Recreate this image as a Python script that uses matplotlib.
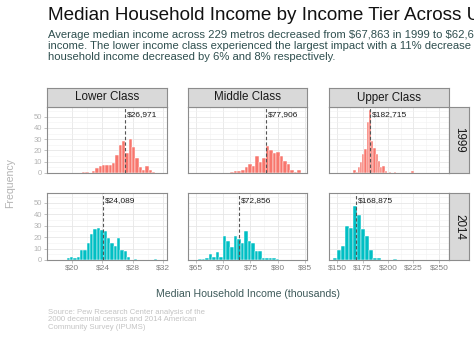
import matplotlib
matplotlib.use('Agg')
import matplotlib.pyplot as plt
import numpy as np
from matplotlib.ticker import FixedLocator, FuncFormatter

plt.rcParams['font.family'] = ['Liberation Sans', 'DejaVu Sans']

# data
tiers = ['Lower Class', 'Middle Class', 'Upper Class']
years = ['1999', '2014']

# histogram: left edge of first bin, bin width, counts (income in $ thousands)
lower_1999_start, lower_1999_width = 21.3, 0.44
lower_1999_counts = [1, 1, 0, 2, 4, 6, 7, 7, 7, 9, 16, 25, 28, 18, 30, 23, 13, 5, 3, 6, 3, 1]
lower_2014_start, lower_2014_width = 19.3, 0.44
lower_2014_counts = [2, 3, 2, 3, 9, 9, 15, 23, 27, 28, 26, 25, 19, 15, 12, 19, 9, 8, 3, 0,
                     1, 0, 0, 0, 0, 0, 1]

middle_1999_start, middle_1999_width = 71.3, 0.65
middle_1999_counts = [1, 2, 2, 3, 5, 8, 6, 15, 10, 13, 24, 20, 18, 19, 15, 11, 8, 3, 1, 3]
middle_2014_start, middle_2014_width = 65.375, 0.65
middle_2014_counts = [1, 1, 2, 5, 3, 7, 3, 21, 17, 11, 21, 18, 15, 25, 17, 15, 8, 8, 2, 2, 2, 2, 1]

upper_1999_start, upper_1999_width = 165.9, 2.2
upper_1999_counts = [3, 1, 5, 10, 17, 21, 45, 56, 28, 22, 17, 11, 5, 6, 2, 0, 1, 0, 1,
                     0, 0, 0, 0, 0, 0, 0, 2]
upper_2014_start, upper_2014_width = 146.05, 3.9
upper_2014_counts = [2, 9, 12, 30, 28, 47, 39, 27, 21, 9, 2, 2, 0, 0, 0, 1]

median_1999 = [26.971, 77.906, 182.715]
median_2014 = [24.089, 72.856, 168.875]

x_ticks = [[20, 24, 28, 32], [65, 70, 75, 80, 85], [150, 175, 200, 225, 250]]
y_ticks = [0, 10, 20, 30, 40, 50]

hists = {
    ('1999', 0): (lower_1999_start, lower_1999_width, lower_1999_counts),
    ('2014', 0): (lower_2014_start, lower_2014_width, lower_2014_counts),
    ('1999', 1): (middle_1999_start, middle_1999_width, middle_1999_counts),
    ('2014', 1): (middle_2014_start, middle_2014_width, middle_2014_counts),
    ('1999', 2): (upper_1999_start, upper_1999_width, upper_1999_counts),
    ('2014', 2): (upper_2014_start, upper_2014_width, upper_2014_counts),
}
medians = {'1999': median_1999, '2014': median_2014}
fills = {'1999': '#F8766D', '2014': '#00BFC4'}

W, H = 474, 338
fig = plt.figure(figsize=(W / 100, H / 100), dpi=100)
fig.patch.set_facecolor('white')


def rect(x0, y0, x1, y1):
    # pixel box (top-left origin) -> figure fraction
    return [x0 / W, 1 - y1 / H, (x1 - x0) / W, (y1 - y0) / H]


col_x = [(47, 167), (188, 307), (329, 449)]
row_y = [(107, 173), (193, 260)]
x_lims = [(16.7, 32.5), (63.5, 85.4), (142, 260)]
border = '#8C8C8C'
strip_fill = '#D9D9D9'

for r, year in enumerate(years):
    for c in range(3):
        ax = fig.add_axes(rect(col_x[c][0], row_y[r][0], col_x[c][1], row_y[r][1]))
        start, width, counts = hists[(year, c)]
        counts = np.array(counts)
        lefts = start + width * np.arange(len(counts))
        keep = counts > 0
        ax.bar(lefts[keep], counts[keep], width=width, align='edge',
               color=fills[year], edgecolor='white', linewidth=0.35, zorder=2)
        med = medians[year][c]
        ax.axvline(med, color='#555555', lw=0.8, ls=(0, (3, 2)), zorder=3)
        ax.text(med + (x_lims[c][1] - x_lims[c][0]) * 0.015, 51.5,
                '\\${:,.0f}'.format(med * 1000), fontsize=6, color='#1A1A1A',
                ha='left', va='center', zorder=4)

        ax.set_xlim(*x_lims[c])
        ax.set_ylim(0, 58.5)
        ax.xaxis.set_major_locator(FixedLocator(x_ticks[c]))
        mids = [(a + b) / 2 for a, b in zip(x_ticks[c][:-1], x_ticks[c][1:])]
        ax.xaxis.set_minor_locator(FixedLocator(mids))
        ax.yaxis.set_major_locator(FixedLocator(y_ticks))
        ax.yaxis.set_minor_locator(FixedLocator([5, 15, 25, 35, 45, 55]))
        ax.grid(which='major', color='#E6E6E6', lw=0.6, zorder=0)
        ax.grid(which='minor', color='#F2F2F2', lw=0.4, zorder=0)
        ax.set_axisbelow(True)
        for s in ax.spines.values():
            s.set_color(border)
            s.set_linewidth(0.8)
        ax.tick_params(which='minor', length=0)
        ax.tick_params(which='major', length=2, width=0.5, color='#AAAAAA', pad=1.5)
        ax.tick_params(axis='x', labelsize=6, labelcolor='#7F7F7F')
        ax.tick_params(axis='y', labelsize=5.5, labelcolor='#B3B3B3')
        ax.xaxis.set_major_formatter(FuncFormatter(lambda v, p: '\\${:g}'.format(v)))
        if r == 0:
            ax.tick_params(axis='x', labelbottom=False, length=0)
        if c > 0:
            ax.tick_params(axis='y', labelleft=False, length=0)

        # strips
        if r == 0:
            sax = fig.add_axes(rect(col_x[c][0], 88, col_x[c][1], 107))
            sax.set_facecolor(strip_fill)
            sax.set_xticks([])
            sax.set_yticks([])
            for s in sax.spines.values():
                s.set_color(border)
                s.set_linewidth(0.8)
            sax.text(0.5, 0.5, tiers[c], transform=sax.transAxes, ha='center',
                     va='center', fontsize=8.4, color='#1A1A1A')
        if c == 2:
            sax = fig.add_axes(rect(449, row_y[r][0], 469, row_y[r][1]))
            sax.set_facecolor(strip_fill)
            sax.set_xticks([])
            sax.set_yticks([])
            for s in sax.spines.values():
                s.set_color(border)
                s.set_linewidth(0.8)
            sax.text(0.5, 0.5, year, transform=sax.transAxes, ha='center',
                     va='center', fontsize=8.4, color='#1A1A1A', rotation=-90)

# titles and labels (title and subtitle run past the right edge, as in the original)
fig.text(48 / W, 1 - 19.5 / H,
         'Median Household Income by Income Tier Across US Metros',
         fontsize=13.6, color='#111111', ha='left', va='baseline')
subtitle = ('Average median income across 229 metros decreased from \\$67,863 in 1999 to \\$62,668 in 2014, an 8% decrease in median\n'
            'income. The lower income class experienced the largest impact with a 11% decrease while the middle and upper\n'
            'household income decreased by 6% and 8% respectively.')
fig.text(48 / W, 1 - 29.5 / H, subtitle, fontsize=8.15, color='#2F4F4F',
         ha='left', va='top', linespacing=1.17)

fig.text(248 / W, 1 - 294 / H, 'Median Household Income (thousands)',
         fontsize=7.6, color='#3E5A5A', ha='center', va='center')
fig.text(10 / W, 1 - 183 / H, 'Frequency', fontsize=7.6, color='#B3B3B3',
         ha='center', va='center', rotation=90)
fig.text(48 / W, 1 - 308.5 / H,
         'Source: Pew Research Center analysis of the\n2000 decennial census and 2014 American\nCommunity Survey (IPUMS)',
         fontsize=5.6, color='#C4C4C4', ha='left', va='top', linespacing=1.12)

fig.savefig('out.png', dpi=100, facecolor='white')
